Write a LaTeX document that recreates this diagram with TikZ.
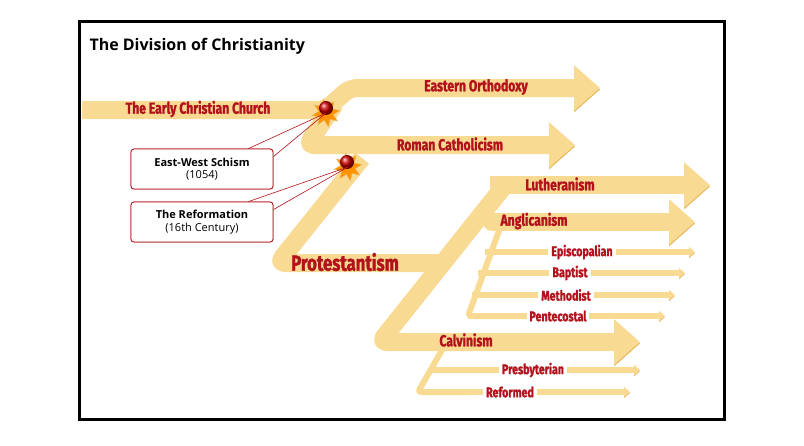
\documentclass[tikz,border=0pt]{standalone}
\usepackage{fontspec}
\setmainfont{Open Sans}
\newfontfamily\cond[FakeStretch=0.76,FakeBold=1.5]{Fira Sans}
\usetikzlibrary{arrows.meta,shapes.geometric}
\definecolor{band}{HTML}{F9DA92}
\definecolor{bandedge}{HTML}{E8B55A}
\definecolor{lab}{HTML}{B3121C}
\tikzset{
 x=1pt,y=-1pt,
 bigband/.style={line width=18pt,band,line join=round,rounded corners=7pt,
   preaction={draw=bandedge,transform canvas={yshift=-1.5pt}}},
 thinband/.style={line width=6pt,band,line join=round,rounded corners=3pt,
   preaction={draw=bandedge,transform canvas={yshift=-1pt}}},
 bigtip/.style={-{Triangle[width=44pt,length=26pt]}},
 thintip/.style={-{Triangle[width=10pt,length=6pt]}},
 lbl/.style={font=\cond\bfseries\fontsize{16}{16}\selectfont,text=lab,inner sep=1pt},
 slbl/.style={font=\cond\bfseries\fontsize{14}{14}\selectfont,text=lab,fill=white,inner sep=3pt},
 infobox/.style={draw=lab,line width=0.8pt,rounded corners=3pt,fill=white,align=center,minimum width=142pt,minimum height=40pt,font=\fontsize{11}{12.5}\selectfont},
 redline/.style={lab,line width=0.6pt},
 burst/.style={star,star points=8,star point ratio=1.9,fill=orange!85!yellow,draw=bandedge,minimum size=28pt,inner sep=0pt,rotate=10},
 ball/.style={circle,ball color=red!80!black,minimum size=14pt,inner sep=0pt}
}
\begin{document}
\begin{tikzpicture}
\useasboundingbox (0,0) rectangle (804,445);
\draw[line width=3pt] (79,21) rectangle (724,419);
\node[anchor=west,font=\bfseries\fontsize{16}{16}\selectfont] (title) at (86,46) {The Division of Christianity};
% main bands
\draw[bigband,bigtip] (82,110) -- (325,110) -- (350,88) -- (600,88);
\draw[bigband,bigtip] (335,104) -- (307,145) -- (575,145);
\draw[bigband] (362,158) -- (278,263) -- (440,263);
\draw[bigband,bigtip] (505,185) -- (380,342) -- (640,342);
\draw[bigband,bigtip] (490,185) -- (710,185);
\draw[bigband,bigtip,line cap=round] (492,222) -- (695,222);
% sub-branches
\draw[thinband] (500,228) -- (468,316) -- (540,316);
\draw[thinband,thintip] (485,252) -- (695,252);
\draw[thinband,thintip] (478,273) -- (685,273);
\draw[thinband,thintip] (472,295) -- (675,295);
\draw[thinband,thintip] (468,316) -- (665,316);
\draw[thinband] (442,350) -- (418,392) -- (470,392);
\draw[thinband,thintip] (432,370) -- (640,370);
\draw[thinband,thintip] (420,392) -- (630,392);
% labels
\node[lbl] (ecc) at (198,109) {The Early Christian Church};
\node[lbl] (eo) at (476,87) {Eastern Orthodoxy};
\node[lbl] (rc) at (450,144) {Roman Catholicism};
\node[lbl,font=\cond\bfseries\fontsize{22}{22}\selectfont] (pr) at (345,262) {Protestantism};
\node[lbl] (lu) at (560,184) {Lutheranism};
\node[lbl] (an) at (534,221) {Anglicanism};
\node[lbl] (ca) at (466,340) {Calvinism};
\node[slbl] (ep) at (582,252) {Episcopalian};
\node[slbl] (ba) at (570,273) {Baptist};
\node[slbl] (me) at (566,295) {Methodist};
\node[slbl] (pe) at (558,316) {Pentecostal};
\node[slbl] (pb) at (533,370) {Presbyterian};
\node[slbl] (rf) at (510,392) {Reformed};
% stars
\node[burst] (s1) at (326,113) {};
\node[ball] (b1) at (326,108) {};
\node[burst] (s2) at (348,167) {};
\node[ball] (b2) at (347,162) {};
% info boxes
\node[infobox] (ews) at (202,169) {\textbf{East-West Schism}\\(1054)};
\node[infobox] (ref) at (202,222) {\textbf{The Reformation}\\(16th Century)};
\draw[redline] (ews.north east) ++(-25,0) -- (s1.center);
\draw[redline] (ews.north east) ++(0,8) -- (s1.center);
\draw[redline] (ref.north east) ++(-25,0) -- (s2.center);
\draw[redline] (ref.north east) ++(0,8) -- (s2.center);
\node[infobox] at (ews) {\textbf{East-West Schism}\\(1054)};
\node[infobox] at (ref) {\textbf{The Reformation}\\(16th Century)};
\end{tikzpicture}
\end{document}
